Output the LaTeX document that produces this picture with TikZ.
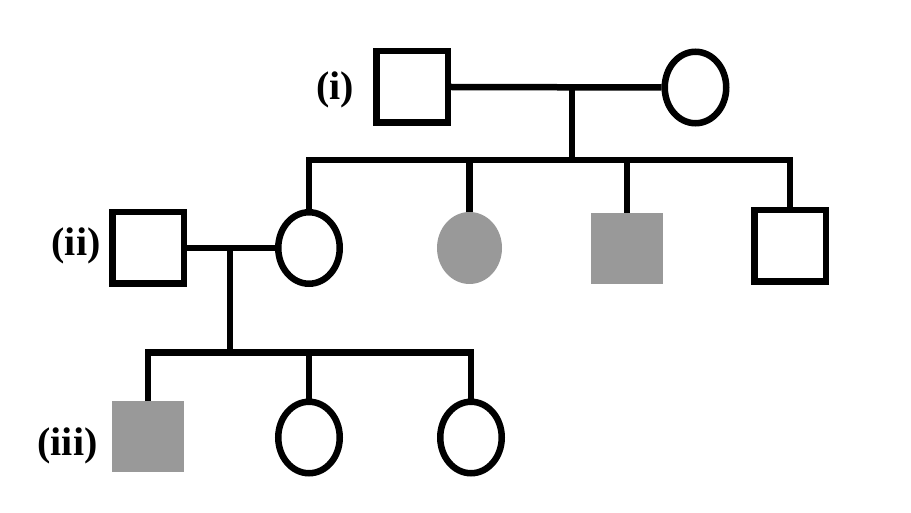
\documentclass[tikz,border=0pt]{standalone}
\usepackage{fontspec}
\setmainfont{Liberation Serif}
\usetikzlibrary{shapes.geometric}
\definecolor{affgray}{RGB}{153,153,153}
\begin{document}
\begin{tikzpicture}[x=1pt,y=-1pt,
  lw/.style={line width=6.5pt},
  male/.style={draw, lw, rectangle, minimum size=71.5pt, inner sep=0pt},
  female/.style={draw, lw, ellipse, minimum width=61.5pt, minimum height=71.5pt, inner sep=0pt},
  amale/.style={fill=affgray, rectangle, minimum width=72pt, minimum height=71pt, inner sep=0pt, outer sep=0pt},
  afemale/.style={fill=affgray, ellipse, minimum width=65pt, minimum height=72pt, inner sep=0pt, outer sep=0pt},
  lbl/.style={font=\fontsize{40}{40}\selectfont\bfseries, inner sep=0pt},
  conn/.style={lw, line join=miter}]
\fill[white] (0,0) rectangle (911,513);
\useasboundingbox (0,0) rectangle (911,513);
% generation I
\node[male] (I1) at (412,87) {};
\node[female] (I2) at (695.5,87.5) {};
% generation II
\node[male] (II1) at (148,248) {};
\node[female] (II2) at (309,248) {};
\node[afemale] (II3) at (469.5,248) {};
\node[amale] (II4) at (627,248.5) {};
\node[male] (II5) at (790,246) {};
% generation III
\node[amale] (III1) at (148,436.5) {};
\node[female] (III2) at (309,437.5) {};
\node[female] (III3) at (471,437.5) {};
% labels
\node[lbl] (Li) at (335,90) {(i)};
\node[lbl] (Lii) at (76,246) {(ii)};
\node[lbl] (Liii) at (67.5,446) {(iii)};
% connectors
\coordinate (m1) at (572,87);
\coordinate (s1) at (572,160);
\coordinate (m2) at (230,248);
\coordinate (s2) at (230,352.5);
\draw[conn] (I1.east) -- (I2.west);
\draw[conn] (m1) -- (s1);
\draw[conn] (II2.north) -- (II2.north |- s1) -- (II5.north |- s1) -- (II5.north);
\draw[conn] (II3.north |- s1) -- (II3.north);
\draw[conn] (II4.north |- s1) -- (II4.north);
\draw[conn] (II1.east) -- (II2.west);
\draw[conn] (m2) -- (s2);
\draw[conn] (III1.north) -- (III1.north |- s2) -- (III3.north |- s2) -- (III3.north);
\draw[conn] (III2.north |- s2) -- (III2.north);
\end{tikzpicture}
\end{document}
